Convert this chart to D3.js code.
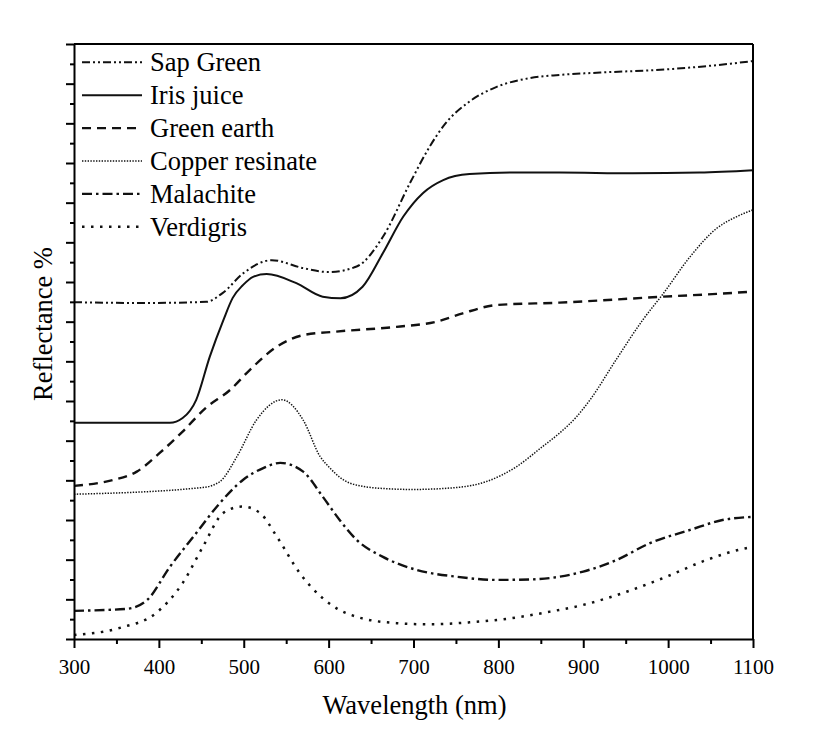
<!DOCTYPE html>
<html>
<head>
<meta charset="utf-8">
<script src="https://cdn.jsdelivr.net/npm/d3@7"></script>
<style>
  html, body { margin: 0; padding: 0; background: #fff; }
  svg { display: block; font-family: "Liberation Serif", "Times New Roman", serif; }
</style>
</head>
<body>
<svg id="chart" width="818" height="733"></svg>
<script>
// ---------- data ----------
const seriesNames = ["Sap Green", "Iris juice", "Green earth", "Copper resinate", "Malachite", "Verdigris"];

const sapGreenWl = [300, 380, 456, 475, 500, 533, 570, 600, 633, 664, 696, 719, 737, 766, 798, 837, 872, 920, 998, 1076, 1100];
const sapGreenR  = [8.49, 8.47, 8.50, 8.72, 9.23, 9.55, 9.35, 9.25, 9.39, 10.14, 11.50, 12.41, 12.98, 13.55, 13.92, 14.14, 14.22, 14.28, 14.36, 14.51, 14.57];

const irisWl = [300, 413, 428, 444, 460, 476, 487, 499, 511, 527, 562, 593, 614, 640, 664, 688, 711, 735, 766, 817, 872, 958, 1037, 1100];
const irisR  = [5.45, 5.45, 5.57, 6.03, 7.12, 8.04, 8.60, 8.92, 9.13, 9.20, 8.97, 8.63, 8.59, 8.88, 9.73, 10.65, 11.24, 11.57, 11.72, 11.76, 11.76, 11.74, 11.76, 11.82];

const greenEarthWl = [300, 346, 374, 401, 428, 455, 484, 507, 539, 570, 609, 680, 727, 758, 798, 872, 939, 994, 1057, 1100];
const greenEarthR  = [3.86, 4.01, 4.22, 4.69, 5.23, 5.82, 6.28, 6.78, 7.37, 7.66, 7.75, 7.87, 8.00, 8.21, 8.42, 8.48, 8.56, 8.63, 8.70, 8.76];

const copperWl = [300, 452, 472, 492, 515, 545, 570, 590, 602, 613, 625, 660, 699, 751, 786, 821, 852, 872, 892, 908, 939, 970, 994, 1026, 1057, 1081, 1100];
const copperR  = [3.65, 3.82, 3.97, 4.60, 5.52, 6.03, 5.52, 4.60, 4.30, 4.08, 3.93, 3.80, 3.77, 3.82, 3.97, 4.34, 4.85, 5.19, 5.60, 6.03, 7.05, 8.04, 8.70, 9.64, 10.35, 10.65, 10.82];

const malachiteWl = [300, 362, 386, 413, 444, 472, 499, 523, 543, 570, 593, 613, 633, 664, 704, 751, 798, 837, 872, 900, 939, 978, 1026, 1064, 1100];
const malachiteR  = [0.71, 0.76, 0.98, 1.82, 2.67, 3.43, 4.01, 4.31, 4.44, 4.22, 3.59, 3.00, 2.50, 2.07, 1.74, 1.57, 1.49, 1.50, 1.57, 1.70, 1.99, 2.41, 2.75, 3.00, 3.08];

const verdigrisWl = [300, 354, 397, 428, 452, 476, 498, 519, 539, 566, 593, 613, 633, 680, 719, 766, 814, 861, 900, 951, 998, 1045, 1092, 1100];
const verdigrisR  = [0.10, 0.28, 0.66, 1.41, 2.33, 3.18, 3.34, 3.18, 2.58, 1.66, 1.03, 0.73, 0.56, 0.40, 0.37, 0.42, 0.52, 0.69, 0.86, 1.19, 1.57, 1.99, 2.29, 2.32];

const xTickLabels = [300, 400, 500, 600, 700, 800, 900, 1000, 1100];
const xMinorTicks = [350, 450, 550, 650, 750, 850, 950, 1050];

// ---------- styling ----------
const styles = [
  { dash: "8,3,2,3,2,3", width: 2.0 },   // Sap Green: dash-dot-dot
  { dash: null,          width: 2.0 },   // Iris juice: solid
  { dash: "9,6",         width: 2.4 },   // Green earth: dashed
  { dash: "1.4,1.4",     width: 1.5 },   // Copper resinate: fine dotted
  { dash: "10,4,2.5,4",  width: 2.4 },   // Malachite: dash-dot
  { dash: "2.5,6.5",     width: 2.5 }    // Verdigris: sparse dots
];

const allSeries = [
  [sapGreenWl, sapGreenR],
  [irisWl, irisR],
  [greenEarthWl, greenEarthR],
  [copperWl, copperR],
  [malachiteWl, malachiteR],
  [verdigrisWl, verdigrisR]
];

// ---------- layout ----------
const svg = d3.select("#chart");
const margin = { left: 74, top: 44, right: 65, bottom: 94 };
const W = 818, H = 733;
const iw = W - margin.left - margin.right;
const ih = H - margin.top - margin.bottom;
const serif = "Liberation Serif, Times New Roman, serif";

const x = d3.scaleLinear().domain([300, 1100]).range([0, iw]);
const y = d3.scaleLinear().domain([0, 15]).range([ih, 0]);

const g = svg.append("g").attr("transform", `translate(${margin.left},${margin.top})`);

// curves
const line = d3.line()
  .x(d => x(d[0]))
  .y(d => y(d[1]))
  .curve(d3.curveMonotoneX);

allSeries.forEach((s, i) => {
  const pts = s[0].map((w, k) => [w, s[1][k]]);
  g.append("path")
    .datum(pts)
    .attr("fill", "none")
    .attr("stroke", "#111")
    .attr("stroke-width", styles[i].width)
    .attr("stroke-dasharray", styles[i].dash)
    .attr("d", line);
});

// frame (top & right)
g.append("line").attr("x1", 0).attr("x2", iw).attr("y1", 0).attr("y2", 0)
  .attr("stroke", "#000").attr("stroke-width", 2);
g.append("line").attr("x1", iw).attr("x2", iw).attr("y1", 0).attr("y2", ih)
  .attr("stroke", "#000").attr("stroke-width", 2);

// x axis
const xAxis = g.append("g").attr("transform", `translate(0,${ih})`)
  .call(d3.axisBottom(x).tickValues(xTickLabels).tickSize(9).tickSizeOuter(0).tickFormat(d3.format("d")));
const xMinor = g.append("g").attr("transform", `translate(0,${ih})`)
  .call(d3.axisBottom(x).tickValues(xMinorTicks).tickSize(5).tickFormat(""));
xMinor.select(".domain").remove();

// y axis (no labels)
const yMajor = d3.range(0, 15.001, 1);
const yMinor = d3.range(0.5, 15, 1);
g.append("g")
  .call(d3.axisLeft(y).tickValues(yMajor).tickSize(8).tickSizeOuter(0).tickFormat(""));
const yAxisMinor = g.append("g")
  .call(d3.axisLeft(y).tickValues(yMinor).tickSize(4).tickFormat(""));
yAxisMinor.select(".domain").remove();

g.selectAll(".domain").attr("stroke", "#000").attr("stroke-width", 2);
g.selectAll(".tick line").attr("stroke", "#000").attr("stroke-width", 2);
xAxis.selectAll(".tick text")
  .attr("font-family", serif)
  .attr("font-size", 21)
  .attr("fill", "#000")
  .attr("y", 35)
  .attr("dy", 0);

// axis titles
svg.append("text")
  .attr("x", margin.left + iw / 2 + 1)
  .attr("y", 714)
  .attr("text-anchor", "middle")
  .attr("font-family", serif)
  .attr("font-size", 26.5)
  .attr("fill", "#000")
  .text("Wavelength (nm)");

svg.append("text")
  .attr("transform", `translate(52,324) rotate(-90)`)
  .attr("text-anchor", "middle")
  .attr("font-family", serif)
  .attr("font-size", 26.5)
  .attr("fill", "#000")
  .text("Reflectance %");

// legend
const legend = svg.append("g");
const legY0 = 62.3, legStep = 32.9;
seriesNames.forEach((name, i) => {
  const yy = legY0 + i * legStep;
  legend.append("line")
    .attr("x1", 82).attr("x2", 142).attr("y1", yy).attr("y2", yy)
    .attr("stroke", "#111")
    .attr("stroke-width", styles[i].width)
    .attr("stroke-dasharray", styles[i].dash);
  legend.append("text")
    .attr("x", 150).attr("y", yy + 9)
    .attr("font-family", serif)
    .attr("font-size", 26.5)
    .attr("fill", "#000")
    .text(name);
});
</script>
</body>
</html>
